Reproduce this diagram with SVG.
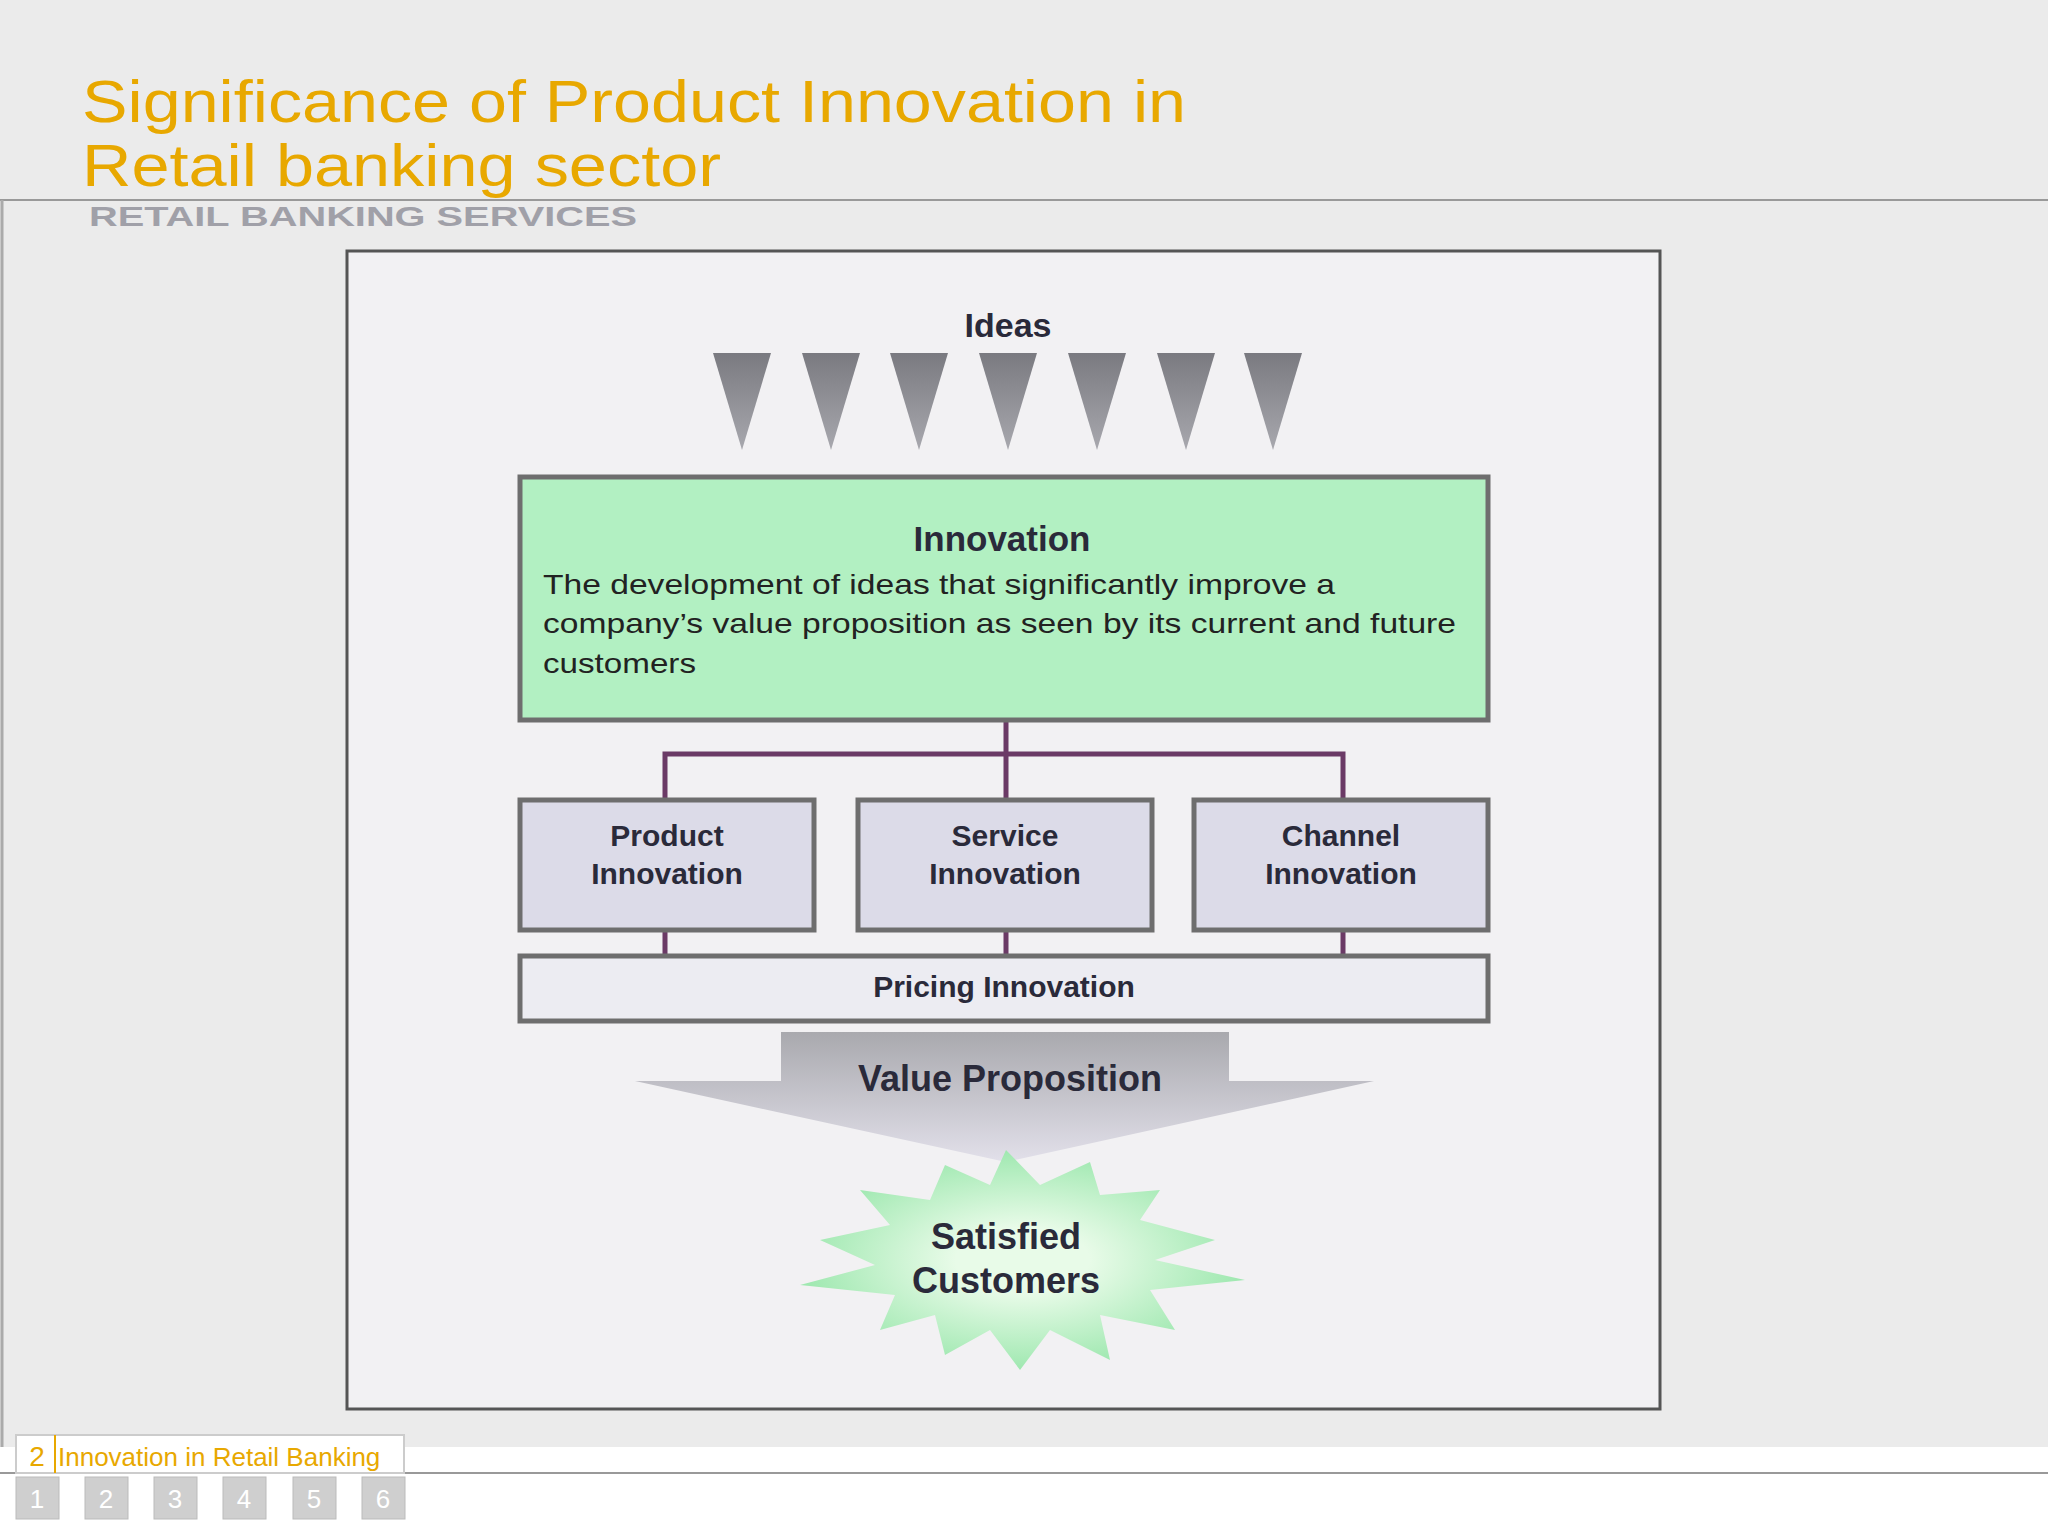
<svg xmlns="http://www.w3.org/2000/svg" width="2048" height="1536" viewBox="0 0 2048 1536">
<style>
.t{font-family:"Liberation Sans",Arial,sans-serif}
.b{font-weight:bold;fill:#2a2a3a;text-anchor:middle}
.box{fill:#dcdbe8;stroke:#6e6e6e;stroke-width:5}
.con{stroke:#6b3a66;stroke-width:5;fill:none}
.num{fill:#cfcfcf;stroke:#bbb;stroke-width:1}
.nt{font-family:"Liberation Sans",Arial,sans-serif;font-size:26px;fill:#fff;text-anchor:middle}
</style>
<defs>
<linearGradient id="ga" x1="0" y1="0" x2="0" y2="1"><stop offset="0" stop-color="#7a7a80"/><stop offset="1" stop-color="#a8a8ae"/></linearGradient>
<linearGradient id="gv" x1="0" y1="0" x2="0" y2="1"><stop offset="0" stop-color="#a9a9ae"/><stop offset="1" stop-color="#e2e0ea"/></linearGradient>
<radialGradient id="gs"><stop offset="0.3" stop-color="#e8fbe8"/><stop offset="1" stop-color="#9fe8b0"/></radialGradient>
</defs>
<rect width="2048" height="1536" fill="#ebebeb"/>
<rect x="0" y="1447" width="2048" height="89" fill="#ffffff"/>
<line x1="0" y1="200" x2="2048" y2="200" stroke="#999" stroke-width="2"/>
<line x1="2" y1="200" x2="2" y2="1447" stroke="#aaa" stroke-width="3"/>
<text class="t" x="82" y="122" font-size="60" fill="#e8a800" textLength="1104" lengthAdjust="spacingAndGlyphs">Significance of Product Innovation in</text>
<text class="t" x="82" y="186" font-size="60" fill="#e8a800" textLength="639" lengthAdjust="spacingAndGlyphs">Retail banking sector</text>
<text class="t" x="89" y="226" font-size="28" font-weight="bold" fill="#a0a0a8" textLength="548" lengthAdjust="spacingAndGlyphs">RETAIL BANKING SERVICES</text>
<rect x="347" y="251" width="1313" height="1158" fill="#f2f1f3" stroke="#555" stroke-width="3"/>
<g id="ideas">
<text class="t b" x="1008" y="337" font-size="34" font-weight="normal">Ideas</text>
<g fill="url(#ga)">
<polygon points="713,353 771,353 742,450"/><polygon points="802,353 860,353 831,450"/>
<polygon points="890,353 948,353 919,450"/><polygon points="979,353 1037,353 1008,450"/>
<polygon points="1068,353 1126,353 1097,450"/><polygon points="1157,353 1215,353 1186,450"/>
<polygon points="1244,353 1302,353 1273,450"/>
</g>
</g>
<g id="connectors">
<path class="con" d="M1006,720V800M665,800V754H1343V800M665,930V956M1006,930V956M1343,930V956"/>
</g>
<g id="innovation">
<rect x="520" y="477" width="968" height="243" fill="#b2f0c2" stroke="#6e6e6e" stroke-width="5"/>
<text class="t b" x="1002" y="551" font-size="35">Innovation</text>
<g class="t" font-size="28" fill="#222">
<text x="543" y="594" textLength="792" lengthAdjust="spacingAndGlyphs">The development of ideas that significantly improve a</text>
<text x="543" y="633" textLength="913" lengthAdjust="spacingAndGlyphs">company’s value proposition as seen by its current and future</text>
<text x="543" y="673" textLength="153" lengthAdjust="spacingAndGlyphs">customers</text>
</g>
</g>
<g id="product"><rect class="box" x="520" y="800" width="294" height="130"/>
<text class="t b" x="667" y="846" font-size="30">Product</text><text class="t b" x="667" y="884" font-size="30">Innovation</text></g>
<g id="service"><rect class="box" x="858" y="800" width="294" height="130"/>
<text class="t b" x="1005" y="846" font-size="30">Service</text><text class="t b" x="1005" y="884" font-size="30">Innovation</text></g>
<g id="channel"><rect class="box" x="1194" y="800" width="294" height="130"/>
<text class="t b" x="1341" y="846" font-size="30">Channel</text><text class="t b" x="1341" y="884" font-size="30">Innovation</text></g>
<g id="pricing"><rect x="520" y="956" width="968" height="65" fill="#ececf2" stroke="#6e6e6e" stroke-width="5"/>
<text class="t b" x="1004" y="997" font-size="30">Pricing Innovation</text></g>
<g id="value">
<polygon points="781,1032 1229,1032 1229,1081 1374,1081 1006,1162 635,1081 781,1081" fill="url(#gv)"/>
<text class="t b" x="1010" y="1091" font-size="36">Value Proposition</text>
</g>
<g id="satisfied">
<polygon fill="url(#gs)" points="1006,1150 1040,1185 1090,1162 1100,1195 1160,1190 1140,1220 1215,1240 1155,1260 1245,1280 1150,1290 1175,1330 1100,1315 1110,1360 1050,1330 1020,1370 990,1330 945,1355 935,1315 880,1330 895,1295 800,1285 875,1265 820,1240 890,1225 860,1190 930,1200 945,1165 990,1185"/>
<text class="t b" x="1006" y="1249" font-size="36">Satisfied</text>
<text class="t b" x="1006" y="1293" font-size="36">Customers</text>
</g>
<g id="footer">
<line x1="0" y1="1473" x2="2048" y2="1473" stroke="#999" stroke-width="2"/>
<rect x="16" y="1435" width="388" height="38" fill="#fff" stroke="#ccc" stroke-width="2"/>
<line x1="55" y1="1435" x2="55" y2="1473" stroke="#e8a800" stroke-width="2"/>
<text class="t" x="37" y="1466" font-size="28" fill="#e8a800" text-anchor="middle">2</text>
<text class="t" x="58" y="1466" font-size="26" fill="#e8a800">Innovation in Retail Banking</text>
<rect class="num" x="16" y="1477" width="43" height="42"/><text class="nt" x="37" y="1508">1</text>
<rect class="num" x="85" y="1477" width="43" height="42"/><text class="nt" x="106" y="1508">2</text>
<rect class="num" x="154" y="1477" width="43" height="42"/><text class="nt" x="175" y="1508">3</text>
<rect class="num" x="223" y="1477" width="43" height="42"/><text class="nt" x="244" y="1508">4</text>
<rect class="num" x="293" y="1477" width="43" height="42"/><text class="nt" x="314" y="1508">5</text>
<rect class="num" x="362" y="1477" width="43" height="42"/><text class="nt" x="383" y="1508">6</text>
</g>
</svg>
